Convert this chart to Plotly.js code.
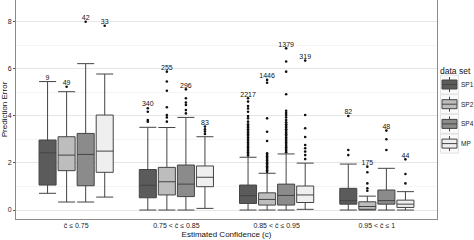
<!DOCTYPE html>
<html>
<head>
<meta charset="utf-8">
<script src="https://cdn.plot.ly/plotly-3.0.1.min.js"></script>
<style>html,body{margin:0;padding:0;background:#fff;}#chart{width:474px;height:240px;}</style>
</head>
<body>
<div id="chart"></div>
<script>
// ---- data ----
const categories = ["ĉ ≤ 0.75", "0.75 < ĉ ≤ 0.85", "0.85 < ĉ ≤ 0.95", "0.95 < ĉ ≤ 1"];
const seriesNames = ["SP1", "SP2", "SP4", "MP"];
const seriesColors = ["#5b5b5b", "#bdbdbd", "#8b8b8b", "#efefef"];

// rows: SP1, SP2, SP4, MP ; columns: categories
const lowerWhisker = [
  [0.71, 0.00, 0.00, 0.00],
  [0.34, 0.00, 0.00, 0.00],
  [0.34, 0.00, 0.00, 0.00],
  [0.55, 0.07, 0.03, 0.00]
];
const q1 = [
  [1.06, 0.52, 0.28, 0.25],
  [1.67, 0.64, 0.21, 0.03],
  [1.03, 0.57, 0.21, 0.25],
  [1.60, 0.99, 0.32, 0.11]
];
const median = [
  [2.43, 1.05, 0.61, 0.40],
  [2.33, 1.20, 0.45, 0.15],
  [2.36, 1.10, 0.62, 0.40],
  [2.50, 1.39, 0.64, 0.25]
];
const q3 = [
  [2.97, 1.72, 1.06, 0.92],
  [3.11, 1.81, 0.73, 0.35],
  [3.25, 1.91, 1.10, 0.85],
  [4.03, 1.87, 1.02, 0.42]
];
const upperWhisker = [
  [5.45, 3.51, 2.24, 1.95],
  [5.02, 3.50, 1.56, 0.59],
  [6.21, 3.93, 2.38, 1.77],
  [5.77, 3.11, 1.99, 0.78]
];
const outliersSP1 = [
  [],
  [3.75, 3.82, 4.17, 4.32],
  [2.31, 2.38, 2.45, 2.52, 2.59, 2.66, 2.73, 2.80, 2.87, 2.94, 3.01, 3.08, 3.15, 3.22, 3.29, 3.36, 3.43, 3.50, 3.57, 3.64, 3.75, 3.89, 3.99, 4.17, 4.31, 4.41, 4.60, 4.74],
  [2.33, 2.55, 3.99]
];
const outliersSP2 = [
  [5.23],
  [3.75, 3.93, 4.03, 4.36, 5.06, 5.45, 5.87],
  [1.62, 1.68, 1.74, 1.80, 1.86, 1.92, 1.98, 2.04, 2.10, 2.16, 2.22, 2.28, 2.34, 2.41, 2.93, 3.32, 3.89, 5.40, 5.52],
  [0.82, 0.92, 1.13, 1.60, 1.84]
];
const outliersSP4 = [
  [7.99],
  [4.10, 4.24, 4.46, 4.56, 4.74, 5.12],
  [2.45, 2.52, 2.59, 2.66, 2.73, 2.80, 2.87, 2.94, 3.01, 3.08, 3.15, 3.22, 3.29, 3.36, 3.43, 3.50, 3.57, 3.64, 3.72, 3.82, 3.93, 4.03, 4.12, 4.21, 4.91, 5.87, 6.30, 6.86],
  [2.55, 3.00, 3.37]
];
const outliersMP = [
  [7.82],
  [3.23, 3.33, 3.42, 3.54],
  [2.16, 2.33, 2.48, 2.62, 2.76, 3.10, 3.47, 4.03, 6.34],
  [1.13, 1.53, 2.15]
];
const counts = [
  [9, 340, 2217, 82],
  [49, 255, 1446, 175],
  [42, 296, 1379, 48],
  [33, 83, 319, 44]
];

// ---- drawing ----
const W = 474, H = 240;
const M = {l: 16, r: 37, t: 0, b: 21};
const outliers = [outliersSP1, outliersSP2, outliersSP4, outliersMP];
const dodge = 0.19;
const boxWidth = 0.17;
const lineColor = "#444444";
const traces = [];
const labelX = [], labelY = [], labelT = [];
const outX = [], outY = [];

seriesNames.forEach((name, s) => {
  const off = (s - 1.5) * dodge;
  const xs = categories.map((c, i) => i + off);
  traces.push({
    type: "box",
    name: name,
    x: xs,
    q1: q1[s], median: median[s], q3: q3[s],
    lowerfence: lowerWhisker[s], upperfence: upperWhisker[s],
    width: boxWidth,
    whiskerwidth: 1,
    fillcolor: seriesColors[s],
    line: {color: lineColor, width: 1},
    boxpoints: false,
    showlegend: false,
    hoverinfo: "skip"
  });
  categories.forEach((c, i) => {
    outliers[s][i].forEach(v => { outX.push(i + off); outY.push(v); });
    const top = Math.max(upperWhisker[s][i], ...outliers[s][i]);
    labelX.push(i + off); labelY.push(top); labelT.push(String(counts[s][i]));
  });
});

traces.push({
  type: "scatter", mode: "markers", x: outX, y: outY, showlegend: false,
  marker: {color: "#111", size: 2.6}, hoverinfo: "skip"
});
traces.push({
  type: "scatter", mode: "text", x: labelX, y: labelY, text: labelT,
  textposition: "top center", showlegend: false,
  textfont: {family: "Liberation Sans, Arial, sans-serif", size: 7, color: "#111"},
  hoverinfo: "skip"
});

// ---- legend (drawn as keys in paper space, ggplot style) ----
const pw = W - M.l - M.r, ph = H - M.t - M.b;
const px = v => (v - M.l) / pw;
const py = v => 1 - (v - M.t) / ph;
const keyLeft = 442, keyRight = 457, keyTop0 = 76, keyStep = 19.7, keyH = 17;
const shapes = [], annotations = [];
annotations.push({
  xref: "paper", yref: "paper", x: px(438), y: py(71), xanchor: "left", yanchor: "middle",
  text: "data set", showarrow: false, font: {size: 8.5, color: "#111"}
});
seriesNames.forEach((name, s) => {
  const top = keyTop0 + s * keyStep, cy = top + keyH / 2, cx = (keyLeft + keyRight) / 2;
  shapes.push({type: "rect", xref: "paper", yref: "paper", x0: px(keyLeft - 1.5), x1: px(keyRight + 1.5),
    y0: py(top - 1), y1: py(top + keyH + 1), line: {color: "#e2e2e2", width: 1}, fillcolor: "#fafafa", layer: "above"});
  shapes.push({type: "line", xref: "paper", yref: "paper", x0: px(cx), x1: px(cx),
    y0: py(top + 1), y1: py(top + keyH - 1), line: {color: lineColor, width: 1}, layer: "above"});
  shapes.push({type: "rect", xref: "paper", yref: "paper", x0: px(keyLeft), x1: px(keyRight),
    y0: py(cy - 4.5), y1: py(cy + 4.5), line: {color: lineColor, width: 1}, fillcolor: seriesColors[s], layer: "above"});
  shapes.push({type: "line", xref: "paper", yref: "paper", x0: px(keyLeft), x1: px(keyRight),
    y0: py(cy), y1: py(cy), line: {color: lineColor, width: 1}, layer: "above"});
  annotations.push({
    xref: "paper", yref: "paper", x: px(458.5), y: py(cy), xanchor: "left", yanchor: "middle",
    text: name, showarrow: false, font: {size: 6.5, color: "#222"}
  });
});

const layout = {
  width: W, height: H,
  margin: Object.assign({autoexpand: false}, M),
  paper_bgcolor: "#fff", plot_bgcolor: "#fff",
  font: {family: "Liberation Sans, Arial, sans-serif", size: 7, color: "#333"},
  showlegend: false,
  shapes: shapes,
  annotations: annotations,
  xaxis: {
    range: [-0.6, 3.6],
    tickvals: categories.map((c, i) => i),
    ticktext: categories,
    showgrid: false, zeroline: false,
    showline: true, linecolor: "#8a8a8a", linewidth: 1, mirror: false,
    ticks: "",
    tickfont: {size: 7, color: "#222"},
    title: {text: "Estimated Confidence (c)", font: {size: 8, color: "#111"}, standoff: 2}
  },
  yaxis: {
    range: [-0.38, 8.91],
    dtick: 2,
    gridcolor: "#e6e6e6", gridwidth: 1,
    minor: {dtick: 1, showgrid: true, gridcolor: "#f4f4f4"},
    zeroline: false,
    showline: true, linecolor: "#8a8a8a", linewidth: 1, mirror: true,
    ticks: "outside", ticklen: 2, tickcolor: "#555",
    tickfont: {size: 7, color: "#222"},
    title: {text: "Prediction Error", font: {size: 8, color: "#111"}, standoff: 2}
  }
};

Plotly.newPlot("chart", traces, layout, {staticPlot: true, displayModeBar: false});
</script>
</body>
</html>
